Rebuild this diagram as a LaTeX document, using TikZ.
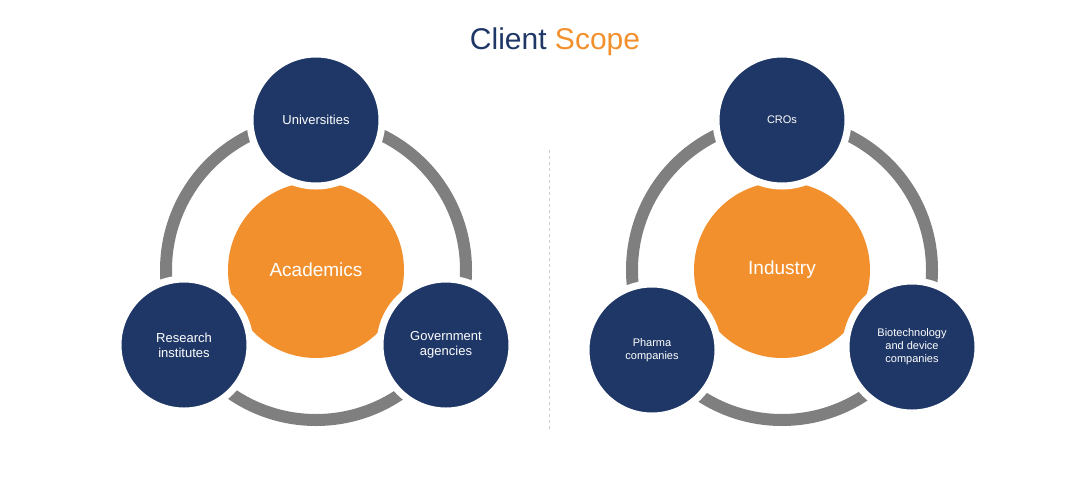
\documentclass[tikz,border=0pt]{standalone}
\usepackage{fontspec}
\setmainfont{Liberation Sans}
\definecolor{navy}{HTML}{1F3766}
\definecolor{orng}{HTML}{F3902E}
\definecolor{ringgray}{HTML}{7F7F7F}
\begin{document}
\begin{tikzpicture}[x=1pt,y=-1pt,
  ring/.style={draw=ringgray,line width=12pt},
  sat/.style={circle,fill=navy,draw=white,line width=7pt,minimum size=132pt,inner sep=0pt,text=white,font=\fontsize{13}{15}\selectfont,align=center},
  core/.style={circle,fill=orng,minimum size=176pt,inner sep=0pt,text=white,font=\fontsize{19}{22}\selectfont}]
\useasboundingbox (0,0) rectangle (1092,496);
\node (title) at (555,42) {\fontsize{30}{34}\selectfont\textcolor{navy}{Client} \textcolor{orng}{Scope}};
\draw[ringgray!40,dashed] (549,150) -- (549,430);
% left
\draw[ring] (316,270) circle (150);
\node[core] (acad) at (316,270) {Academics};
\node[sat] (uni) at (316,120) {Universities};
\node[sat] (res) at (184,345) {Research\\institutes};
\node[sat] (gov) at (446,345) {Government\\agencies};
% right
\draw[ring] (782,270) circle (150);
\node[core] (ind) at (782,270) {Industry};
\node[sat,font=\fontsize{11}{13}\selectfont] (cro) at (782,120) {CROs};
\node[sat,font=\fontsize{11}{13}\selectfont] (pha) at (652,350) {Pharma\\companies};
\node[sat,font=\fontsize{11}{13}\selectfont] (bio) at (912,347) {Biotechnology\\and device\\companies};
\end{tikzpicture}
\end{document}
